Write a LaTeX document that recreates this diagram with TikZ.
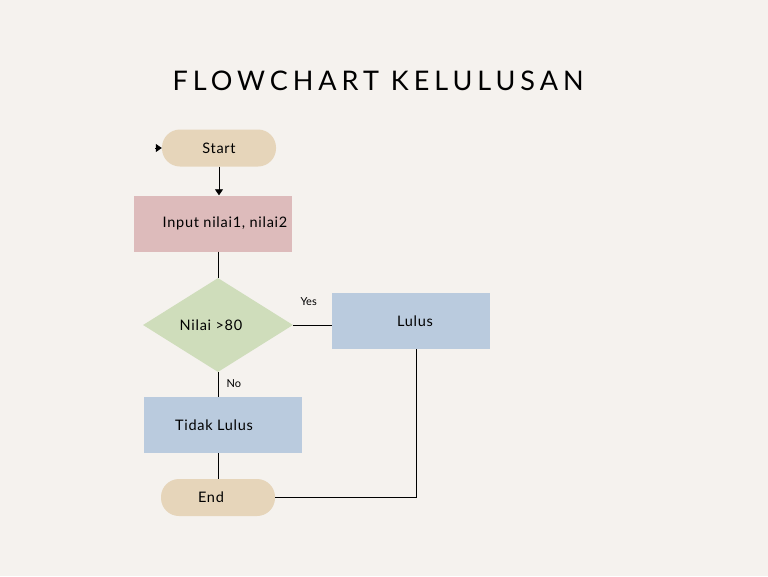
\documentclass[tikz,border=0pt]{standalone}
\usepackage{fontspec}
\setmainfont{Lato}
\newfontfamily\titlefont[LetterSpace=18.5]{Lato}
\newfontfamily\boxfont[LetterSpace=5]{Lato}
\usetikzlibrary{arrows.meta,positioning,shapes.geometric}

\definecolor{paper}{HTML}{F5F2EE}
\definecolor{sand}{HTML}{E6D5BA}
\definecolor{rose}{HTML}{DDBBBB}
\definecolor{sage}{HTML}{CFDDBB}
\definecolor{steel}{HTML}{BACBDE}

\tikzset{
  pill/.style={rectangle, rounded corners=18pt, fill=sand, minimum width=114pt, minimum height=37pt, font=\boxfont\fontsize{14.5}{16}\selectfont},
  procbox/.style={rectangle, fill=#1, minimum width=158pt, minimum height=56pt, font=\boxfont\fontsize{14.5}{16}\selectfont},
  decision/.style={diamond, fill=sage, minimum width=150pt, minimum height=94pt, aspect=1.6, inner sep=0pt, font=\boxfont\fontsize{14.5}{16}\selectfont},
  link/.style={line width=0.8pt, black},
  tag/.style={font=\fontsize{11}{13}\selectfont}
}

\begin{document}
\begin{tikzpicture}[x=1pt, y=-1pt, >=Triangle]
  \useasboundingbox[fill=paper] (0,0) rectangle (768,576);
  % title
  \node (title) at (378,81) {\titlefont\fontsize{27}{32}\selectfont FLOWCHART KELULUSAN};
  % nodes
  \node[pill] (start) at (219,148) {Start};
  \node[procbox=rose] (input) at (213,223.5) {\hspace*{24pt}Input nilai1, nilai2};
  \node[decision] (cek) at (218,325) {Nilai >80\hspace*{14pt}};
  \node[procbox=steel] (lulus) at (411,321) {\hspace*{8pt}Lulus};
  \node[procbox=steel] (gagal) at (223,425) {Tidak Lulus\hspace*{18pt}};
  \node[pill] (end) at (218,497.5) {End\hspace*{14pt}};
  % connectors
  \coordinate (entry) at (155,148);
  \draw[link, -{Triangle[length=6pt,width=8pt]}] (entry) -- (start.west);
  \draw[link, -{Triangle[length=6pt,width=8pt]}] (start.south) -- (start.south |- input.north);
  \draw[link] (input.south -| cek.north) -- (cek.north);
  \draw[link] (cek.east) -- node[tag, above=16pt, pos=0.4] {Yes} (lulus.west |- cek.east);
  \draw[link] (cek.south) -- node[tag, right=5pt, pos=0.45] {No} (cek.south |- gagal.north);
  \draw[link] (gagal.south -| end.north) -- (end.north);
  \draw[link] (lulus.south -| 416,0) -- (416,497.5) -- (end.east);
\end{tikzpicture}
\end{document}
